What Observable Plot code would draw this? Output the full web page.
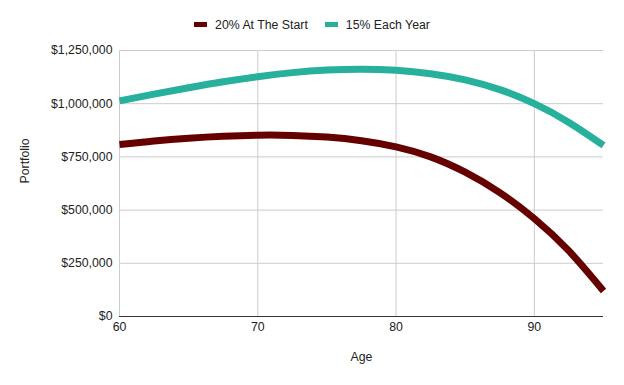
<!DOCTYPE html>
<html><head><meta charset="utf-8">
<script src="https://cdn.jsdelivr.net/npm/d3@7"></script>
<script src="https://cdn.jsdelivr.net/npm/@observablehq/plot@0.6"></script>
<style>
body{margin:0;background:#fff;font-family:"Liberation Sans",Arial,sans-serif;}
#legend{height:40px;display:flex;justify-content:center;align-items:center;gap:17px;font-size:12.3px;color:#222;padding-top:10px;box-sizing:border-box;}
#legend span.sw{display:inline-block;width:13px;height:5px;margin-right:8px;vertical-align:middle;position:relative;top:-1px;}
</style></head>
<body>
<div id="legend"></div>
<div id="chart"></div>
<script>
const ages = [60, 62.5, 65, 67.5, 70, 72.5, 75, 77.5, 80, 82.5, 85, 87.5, 90, 92.5, 95];
const startValues = [808000, 825000, 838000, 847000, 852000, 851000, 843000, 826000, 797000, 750000, 678000, 582000, 460000, 308000, 120000];
const eachYearValues = [1013000, 1045000, 1075000, 1103000, 1127000, 1146000, 1158000, 1162000, 1157000, 1141000, 1112000, 1066000, 1000000, 912000, 804000];
const seriesNames = ["20% At The Start", "15% Each Year"];
const seriesColors = ["#660000", "#27b09b"];
const yTicks = [0, 250000, 500000, 750000, 1000000, 1250000];
const xTicks = [60, 70, 80, 90];

const data = [];
ages.forEach((a, i) => {
  data.push({age: a, value: startValues[i], series: seriesNames[0]});
  data.push({age: a, value: eachYearValues[i], series: seriesNames[1]});
});

const leg = document.getElementById("legend");
seriesNames.forEach((n, i) => {
  const d = document.createElement("div");
  d.innerHTML = `<span class="sw" style="background:${seriesColors[i]}"></span>${n}`;
  leg.appendChild(d);
});

const fmt = d => "$" + d3.format(",")(d);
const chart = Plot.plot({
  width: 624, height: 345,
  marginLeft: 119, marginRight: 21, marginTop: 10, marginBottom: 69,
  style: {fontFamily: '"Liberation Sans", Arial, sans-serif', fontSize: "12.3px", color: "#222"},
  x: {domain: [60, 95]},
  y: {domain: [0, 1250000]},
  color: {domain: seriesNames, range: seriesColors},
  marks: [
    Plot.gridY(yTicks, {stroke: "#ccc", strokeOpacity: 1, strokeWidth: 1}),
    Plot.gridX(xTicks, {stroke: "#ccc", strokeOpacity: 1, strokeWidth: 1}),
    Plot.axisY(yTicks, {tickSize: 0, tickPadding: 7, tickFormat: fmt, label: null}),
    Plot.axisX(xTicks, {tickSize: 0, tickPadding: 6, label: null}),
    Plot.line(data, {x: "age", y: "value", z: "series", stroke: "series", strokeWidth: 7, curve: "natural", strokeLinecap: "butt"}),
    Plot.ruleY([0], {stroke: "#333", strokeWidth: 1}),
    Plot.text(["Age"], {frameAnchor: "bottom", dy: 44, text: d => d}),
    Plot.text(["Portfolio"], {frameAnchor: "left", dx: -94, rotate: -90, text: d => d})
  ]
});
document.getElementById("chart").appendChild(chart);
</script>
</body></html>
